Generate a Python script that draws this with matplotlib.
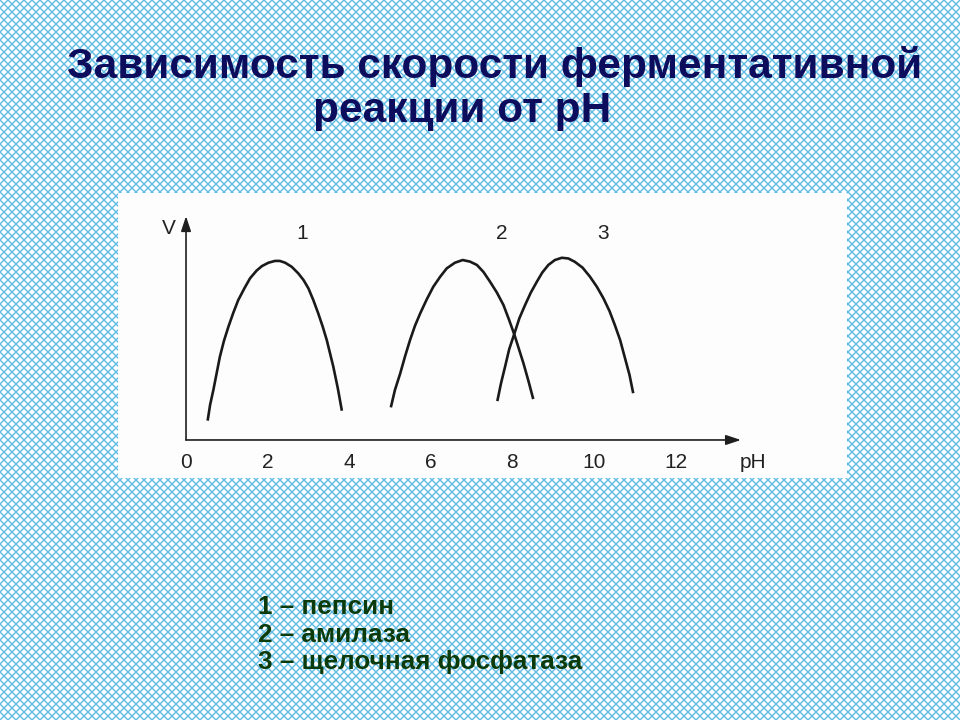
import numpy as np
import matplotlib.pyplot as plt

plt.rcParams['font.family'] = ['Liberation Sans', 'DejaVu Sans']

# curve points (pH, relative rate V)
ph_pepsin = [0.53, 0.59, 0.67, 0.75, 0.83, 0.93, 1.04, 1.16, 1.28, 1.43, 1.57, 1.73, 1.86, 2.02, 2.18,
             2.30, 2.43, 2.59, 2.75, 2.88, 3.00, 3.12, 3.24, 3.35, 3.45, 3.53, 3.61, 3.72, 3.82]
v_pepsin = [0.086, 0.156, 0.222, 0.296, 0.37, 0.441, 0.504, 0.566, 0.622, 0.674, 0.719, 0.753, 0.773, 0.788, 0.796,
            0.796, 0.788, 0.770, 0.741, 0.711, 0.674, 0.622, 0.563, 0.504, 0.444, 0.385, 0.326, 0.23, 0.130]

ph_amylase = [5.02, 5.12, 5.25, 5.37, 5.49, 5.61, 5.74, 5.90, 6.06, 6.23, 6.39, 6.59, 6.78,
              6.96, 7.13, 7.29, 7.45, 7.62, 7.78, 7.92, 8.05, 8.16, 8.27, 8.39, 8.51]
v_amylase = [0.145, 0.222, 0.296, 0.373, 0.444, 0.507, 0.563, 0.625, 0.681, 0.726, 0.763, 0.788, 0.80,
             0.793, 0.778, 0.747, 0.704, 0.655, 0.60, 0.533, 0.467, 0.404, 0.341, 0.264, 0.182]

ph_phosph = [7.63, 7.72, 7.82, 7.92, 8.05, 8.17, 8.31, 8.45, 8.60, 8.73, 8.88, 9.04, 9.21,
             9.37, 9.53, 9.72, 9.90, 10.07, 10.23, 10.38, 10.51, 10.64, 10.76, 10.87, 10.96]
v_phosph = [0.173, 0.252, 0.326, 0.403, 0.474, 0.541, 0.60, 0.655, 0.704, 0.744, 0.778, 0.80, 0.81,
            0.807, 0.792, 0.766, 0.726, 0.681, 0.63, 0.573, 0.511, 0.444, 0.363, 0.289, 0.208]

curve_labels = ["1", "2", "3"]
curve_label_ph = [2.84, 7.74, 10.23]
xticks = [0, 2, 4, 6, 8, 10, 12]

legend_lines = ["1 – пепсин", "2 – амилаза", "3 – щелочная фосфатаза"]

fig = plt.figure(figsize=(9.6, 7.2), dpi=100)

# slide background: pale blue diagonal cross-hatch, 8 px period
yy, xx = np.mgrid[0:720, 0:960] + 0.5
period = 8.0
m1 = np.mod(xx + yy, period)
m2 = np.mod(xx - yy, period)
d1 = np.minimum(m1, period - m1) / np.sqrt(2)
d2 = np.minimum(m2, period - m2) / np.sqrt(2)
ink = np.clip(1.3 - np.minimum(d1, d2) / 0.9, 0, 1)[..., None]
line_rgb = np.array([0.38, 0.74, 0.90])
pattern = 1 - ink * (1 - line_rgb)

bg = fig.add_axes([0, 0, 1, 1])
bg.set_axis_off()
bg.imshow(pattern, extent=(0, 960, 720, 0), interpolation="nearest", aspect="auto")

fig.text(0.515, 1 - 78 / 720, "Зависимость скорости ферментативной", ha="center", va="baseline",
         fontsize=30.5, fontweight="bold", color="#0d0d5e")
fig.text(0.481, 1 - 122 / 720, "реакции от pH", ha="center", va="baseline",
         fontsize=30.5, fontweight="bold", color="#0d0d5e")

# scanned figure panel
ax = fig.add_axes([118 / 960, 1 - 478 / 720, 729 / 960, 285 / 720])
ax.set_xlim(-1.667, 16.2)
ax.set_ylim(-0.169, 1.098)
ax.set_facecolor("#fdfdfd")
for s in ax.spines.values():
    s.set_visible(False)
ax.set_xticks([])
ax.set_yticks([])

axis_col = "#1e1e1e"
ax.annotate("", xy=(13.6, 0), xytext=(0, 0),
            arrowprops=dict(arrowstyle="-|>,head_length=0.9,head_width=0.3", color=axis_col, lw=1.2,
                            shrinkA=0, shrinkB=0))
ax.annotate("", xy=(0, 0.995), xytext=(0, 0),
            arrowprops=dict(arrowstyle="-|>,head_length=0.9,head_width=0.3", color=axis_col, lw=1.2,
                            shrinkA=0, shrinkB=0))

for xs, ys in [(ph_pepsin, v_pepsin), (ph_amylase, v_amylase), (ph_phosph, v_phosph)]:
    ax.plot(xs, ys, color="#1a1a1a", lw=1.9, solid_joinstyle="round", solid_capstyle="butt")

for lab, x in zip(curve_labels, curve_label_ph):
    ax.text(x, 0.92, lab, ha="center", va="center", fontsize=15, color="#222222")

for t in xticks:
    ax.text(t, -0.10, str(t), ha="center", va="center", fontsize=15, color="#222222")
ax.text(13.9, -0.10, "pH", ha="center", va="center", fontsize=15, color="#222222")
ax.text(-0.43, 0.94, "V", ha="center", va="center", fontsize=15, color="#222222")

for i, line in enumerate(legend_lines):
    fig.text(258 / 960, 1 - (614 + 27.5 * i) / 720, line, ha="left", va="baseline",
             fontsize=18.8, fontweight="bold", color="#0b3a0b")

fig.savefig("out.png", dpi=100)
